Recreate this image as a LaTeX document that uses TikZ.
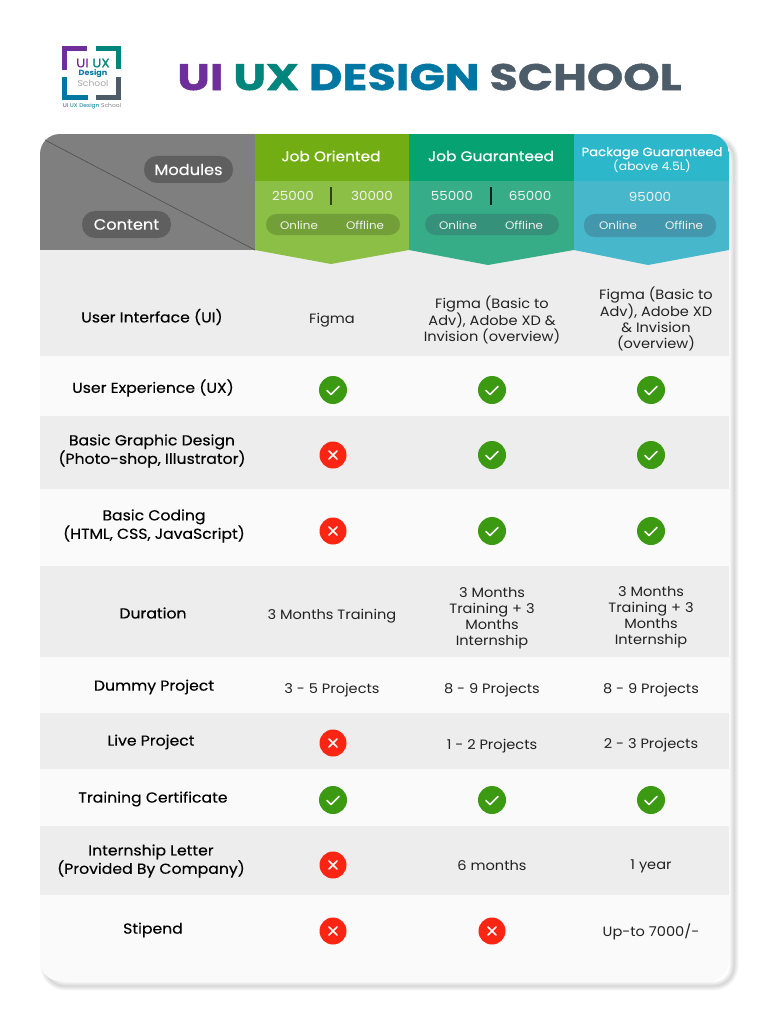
\documentclass[tikz,border=0pt]{standalone}
\usepackage{fontspec}
\setmainfont{Poppins}[FakeStretch=1.08]
\newfontfamily\medf{Poppins}[FakeStretch=1.08,FakeBold=0.25]
\newfontfamily\semif{Poppins}[FakeStretch=1.1,FakeBold=0.6]
\newfontfamily\titlef{Poppins}[FakeStretch=1.25,UprightFont=*-Bold,FakeBold=1.2]
\usetikzlibrary{calc}
\definecolor{rowd}{HTML}{EDEDED}
\definecolor{rowl}{HTML}{FAFAFA}
\definecolor{hgrey}{HTML}{7F7F7F}
\definecolor{pgrey}{HTML}{5F5F5F}
\definecolor{gd}{HTML}{72AE13}
\definecolor{gl}{HTML}{8BBF45}
\definecolor{gp}{HTML}{739F38}
\definecolor{jd}{HTML}{06A272}
\definecolor{jl}{HTML}{37AD87}
\definecolor{jp}{HTML}{35917A}
\definecolor{bd}{HTML}{2CB7CB}
\definecolor{bl}{HTML}{47B7CB}
\definecolor{bp}{HTML}{4397AC}
\definecolor{okc}{HTML}{3B9A12}
\definecolor{noc}{HTML}{FA2513}
\definecolor{lpur}{HTML}{6F2F9A}
\definecolor{ltea}{HTML}{00857C}
\definecolor{lblu}{HTML}{0077A3}
\definecolor{lgry}{HTML}{4C5C68}
\definecolor{ink}{HTML}{222222}
\tikzset{
  x=1pt,y=-1pt,
  rowlab/.style={font=\medf\fontsize{14.5}{17}\selectfont,text=black,align=center,inner sep=0pt,yshift=-1pt},
  cell/.style={font=\fontsize{13.5}{16}\selectfont,text=ink,align=center,inner sep=0pt,yshift=-2pt},
  head/.style={font=\semif\fontsize{14}{16}\selectfont,text=white,align=center,inner sep=0pt},
  price/.style={font=\fontsize{12.5}{15}\selectfont,text=white!90!gray,inner sep=0pt},
  mode/.style={font=\fontsize{11}{13}\selectfont,text=white!90!gray,inner sep=0pt},
  pillbox/.style={draw=none,rounded corners=10.5pt,inner sep=0pt},
  bigpill/.style={fill=pgrey,text=white,rounded corners=13pt,minimum width=89pt,minimum height=27pt,inner sep=0pt,font=\medf\fontsize{15}{18}\selectfont},
  okmark/.style={circle,fill=okc,minimum size=28pt,inner sep=0pt,
    path picture={\draw[white,line width=1.5pt,line cap=round,line join=round]
      ($(path picture bounding box.center)+(-6,0.5)$)--++(4,4)--++(8,-8);}},
  nomark/.style={circle,fill=noc,minimum size=27pt,inner sep=0pt,
    path picture={\draw[white,line width=1.7pt,line cap=round]
      ($(path picture bounding box.center)+(-4,-4)$)--++(8,8)
      ($(path picture bounding box.center)+(-4,4)$)--++(8,-8);}},
  bracket/.style={line width=5pt,line join=miter},
}
\newcommand{\tbl}{[rounded corners=20pt] (40,134) rectangle (729,981)}
\begin{document}
\begin{tikzpicture}
\useasboundingbox (0,0) rectangle (768,1024);
\fill[white] (0,0) rectangle (768,1024);
% soft shadow
\foreach \w in {1,3,...,9}{
  \draw[black,opacity=0.03,line width=\w pt,xshift=5pt,yshift=-5pt] \tbl;}
\fill[rowl] \tbl;
\begin{scope}
\clip \tbl;
\fill[rowd] (40,250) rectangle (729,356);
\fill[rowd] (40,416) rectangle (729,489);
\fill[rowd] (40,566) rectangle (729,657);
\fill[rowd] (40,713) rectangle (729,769);
\fill[rowd] (40,826) rectangle (729,895);
\fill[hgrey] (40,134) rectangle (255,250);
\fill[gl] (255,181) -- (409,181) -- (409,250) -- (331,264) -- (255,250) -- cycle;
\fill[jl] (409,181) -- (574,181) -- (574,250) -- (488,265) -- (409,250) -- cycle;
\fill[bl] (574,181) -- (729,181) -- (729,250) -- (648,265) -- (574,250) -- cycle;
\fill[gd] (255,134) rectangle (409,181);
\fill[jd] (409,134) rectangle (574,181);
\fill[bd] (574,134) rectangle (729,181);
\end{scope}
% logo
\draw[bracket,lpur] (87,48.5) -- (64.5,48.5) -- (64.5,70);
\draw[bracket,ltea] (96,48.5) -- (118.5,48.5) -- (118.5,69);
\draw[bracket,lblu] (64.5,77) -- (64.5,97.5) -- (88,97.5);
\draw[bracket,lgry] (96,97.5) -- (118.5,97.5) -- (118.5,77);
\node[inner sep=0pt,font=\medf\fontsize{12.5}{15}\selectfont] (logoA) at (93,63) {\textcolor{lpur}{UI} \textcolor{ltea}{UX}};
\node[inner sep=0pt,font=\fontsize{7.5}{9}\selectfont\bfseries,text=lblu] (logoB) at (93,74) {Design};
\node[inner sep=0pt,font=\fontsize{8.5}{10}\selectfont,text=gray!70] (logoC) at (93,83.5) {School};
\node[inner sep=0pt,font=\fontsize{5.5}{6}\selectfont] (logoD) at (92,106) {\textcolor{lpur}{UI} \textcolor{ltea}{UX} \textcolor{lblu}{Design} \textcolor{gray}{School}};
% title
\node[anchor=center,inner sep=0pt,font=\titlef\fontsize{37}{40}\selectfont] (title) at (429.5,77) {\textcolor{lpur}{UI} \textcolor{ltea}{UX} \textcolor{lblu}{DESIGN} \textcolor{lgry}{SCHOOL}};
% corner
\coordinate (dgA) at (45,140);
\coordinate (dgB) at (255,250);
\draw[black!35!hgrey,line width=0.7pt] (dgA) -- (dgB);
\node[bigpill] (modules) at (188.5,169.5) {Modules};
\node[bigpill] (content) at (126.5,224.5) {Content};
% heads
\node[head] (h1) at (331,156) {Job Oriented};
\node[head] (h2) at (491,156) {Job Guaranteed};
\node[head,font=\semif\fontsize{12}{15}\selectfont] (h3) at (652,160) {Package Guaranteed\\[-0.5pt]\normalfont\fontsize{11.5}{14}\selectfont (above 4.5L)};
% prices
\node[price] (p1a) at (293,196) {25000};
\node[price] (p1b) at (372,196) {30000};
\node[price] (p2a) at (452,196) {55000};
\node[price] (p2b) at (530,196) {65000};
\node[price] (p3) at (650,197) {95000};
\coordinate (d1t) at (331,187); \coordinate (d1b) at (331,205);
\coordinate (d2t) at (491,187); \coordinate (d2b) at (491,205);
\draw[black!65!gl,line width=1.2pt] (d1t) -- (d1b);
\draw[black!80!jl,line width=1.2pt] (d2t) -- (d2b);
% online pills
\node[pillbox,fill=gp,minimum width=134pt,minimum height=21pt] (m1) at (333,224.5) {};
\node[pillbox,fill=jp,minimum width=134pt,minimum height=21pt] (m2) at (492,224.5) {};
\node[pillbox,fill=bp,minimum width=132pt,minimum height=23pt] (m3) at (650,225.5) {};
\node[mode] (o1) at (299,225) {Online};
\node[mode] (f1) at (365,225) {Offline};
\node[mode] (o2) at (458,225) {Online};
\node[mode] (f2) at (524,225) {Offline};
\node[mode] (o3) at (618,225) {Online};
\node[mode] (f3) at (684,225) {Offline};
% row labels
\node[rowlab] (r1) at (152,316) {User Interface (UI)};
\node[rowlab] (r2) at (153,387) {User Experience (UX)};
\node[rowlab] (r3) at (152,450) {Basic Graphic Design\\(Photo-shop, Illustrator)};
\node[rowlab] (r4) at (154,525) {Basic Coding\\(HTML, CSS, JavaScript)};
\node[rowlab] (r5) at (153,612) {Duration};
\node[rowlab] (r6) at (154,686) {Dummy Project};
\node[rowlab] (r7) at (151,741) {Live Project};
\node[rowlab] (r8) at (153,798) {Training Certificate};
\node[rowlab] (r9) at (151,860) {Internship Letter\\(Provided By Company)};
\node[rowlab] (r10) at (153,929) {Stipend};
% cells
\node[cell] (c11) at (332,318) {Figma};
\node[cell] (c12) at (492,318) {Figma (Basic to\\Adv), Adobe XD \&\\Invision (overview)};
\node[cell] (c13) at (656,317) {Figma (Basic to\\Adv), Adobe XD\\\& Invision\\(overview)};
\node[okmark] (c21) at (333,390) {};
\node[okmark] (c22) at (492,390) {};
\node[okmark] (c23) at (651,390) {};
\node[nomark] (c31) at (333,455) {};
\node[okmark] (c32) at (492,455) {};
\node[okmark] (c33) at (651,455) {};
\node[nomark] (c41) at (333,531) {};
\node[okmark] (c42) at (492,531) {};
\node[okmark] (c43) at (651,531) {};
\node[cell] (c51) at (332,614) {3 Months Training};
\node[cell] (c52) at (492,616) {3 Months\\Training + 3\\Months\\Internship};
\node[cell] (c53) at (651,615) {3 Months\\Training + 3\\Months\\Internship};
\node[cell] (c61) at (332,688) {3 - 5 Projects};
\node[cell] (c62) at (492,688) {8 - 9 Projects};
\node[cell] (c63) at (651,688) {8 - 9 Projects};
\node[nomark] (c71) at (333,743) {};
\node[cell] (c72) at (492,744) {1 - 2 Projects};
\node[cell] (c73) at (651,743) {2 - 3 Projects};
\node[okmark] (c81) at (333,800) {};
\node[okmark] (c82) at (492,800) {};
\node[okmark] (c83) at (651,800) {};
\node[nomark] (c91) at (333,865) {};
\node[cell] (c92) at (492,864) {6 months};
\node[cell] (c93) at (651,864) {1 year};
\node[nomark] (c101) at (333,931) {};
\node[nomark] (c102) at (492,931) {};
\node[cell] (c103) at (651,930) {Up-to 7000/-};
\end{tikzpicture}
\end{document}
